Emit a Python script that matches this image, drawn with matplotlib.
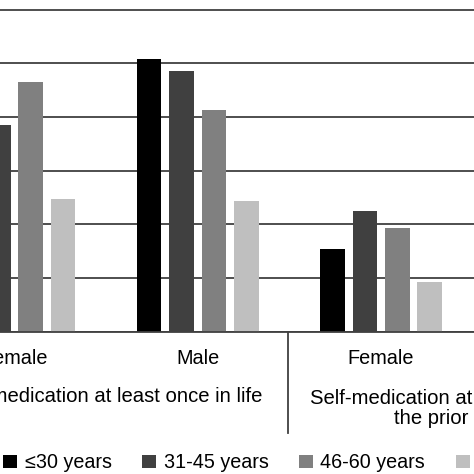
import numpy as np
import matplotlib
matplotlib.use("Agg")
import matplotlib.pyplot as plt

plt.rcParams['font.family'] = ['Liberation Sans', 'DejaVu Sans']

# ---- data ----
groups = ["Self-medication at least once in life",
          "Self-medication at least once during\nthe prior 2 weeks"]
genders = ["Female", "Male", "Female", "Male"]
age_labels = ["\u226430 years", "31-45 years", "46-60 years", ">60 years"]
# percentages per age class, one value per gender/group cell (NaN = not visible)
age_le30 = [np.nan, 50.9, 15.5, np.nan]
age_31_45 = [38.6, 48.5, 22.5, np.nan]
age_46_60 = [46.5, 41.3, 19.3, np.nan]
age_gt60 = [24.7, 24.3, 9.2, np.nan]
series = [age_le30, age_31_45, age_46_60, age_gt60]
colors = ["#000000", "#404040", "#808080", "#bfbfbf"]
grid_ticks = [0, 10, 20, 30, 40, 50, 60]

W = H = 474.0
fig = plt.figure(figsize=(4.74, 4.74), dpi=100)
ax = fig.add_axes([-77.2 / W, 142.3 / H, 733.3 / W, 375.7 / H])

x = np.arange(len(genders))
step = 0.1768
width = 0.134
handles = []
for i, (vals, c) in enumerate(zip(series, colors)):
    b = ax.bar(x + (i - 1.5) * step, vals, width, color=c, linewidth=0, zorder=2)
    handles.append(b)

ax.set_xlim(-0.5, 3.5)
ax.set_ylim(0, 70)
ax.set_yticks(grid_ticks)
ax.set_yticklabels([])
ax.tick_params(left=False, bottom=False, labelbottom=False, labelleft=False)
ax.set_xticks([])
ax.grid(axis='y', color='#404040', linewidth=1.3, zorder=0)
ax.set_axisbelow(True)
for s in ['left', 'right', 'top']:
    ax.spines[s].set_visible(False)
ax.spines['bottom'].set_color('#404040')
ax.spines['bottom'].set_linewidth(1.3)

tr = ax.get_xaxis_transform()
for xi, g in zip(x, genders):
    ax.text(xi, -0.0708, g, transform=tr, ha='center', va='center',
            fontsize=14.3, clip_on=False)
ax.text(0.5, -0.1738, groups[0], transform=tr, ha='center', va='center',
        fontsize=14.6, clip_on=False)
ax.text(2.49, -0.205, groups[1], transform=tr, ha='center', va='center',
        fontsize=14.6, linespacing=1.1, clip_on=False)

# group separator
ax.plot([1.49, 1.49], [0, -0.2696], transform=tr, color='#404040',
        linewidth=1.3, clip_on=False)

fig.legend(handles, age_labels, loc='center left',
           bbox_to_anchor=(3.3 / W, 11 / H), ncol=4, frameon=False,
           borderpad=0, borderaxespad=0, handlelength=0.72, handleheight=0.65,
           handletextpad=0.37, columnspacing=1.54, fontsize=14.2)

fig.savefig("out.png", dpi=100)
